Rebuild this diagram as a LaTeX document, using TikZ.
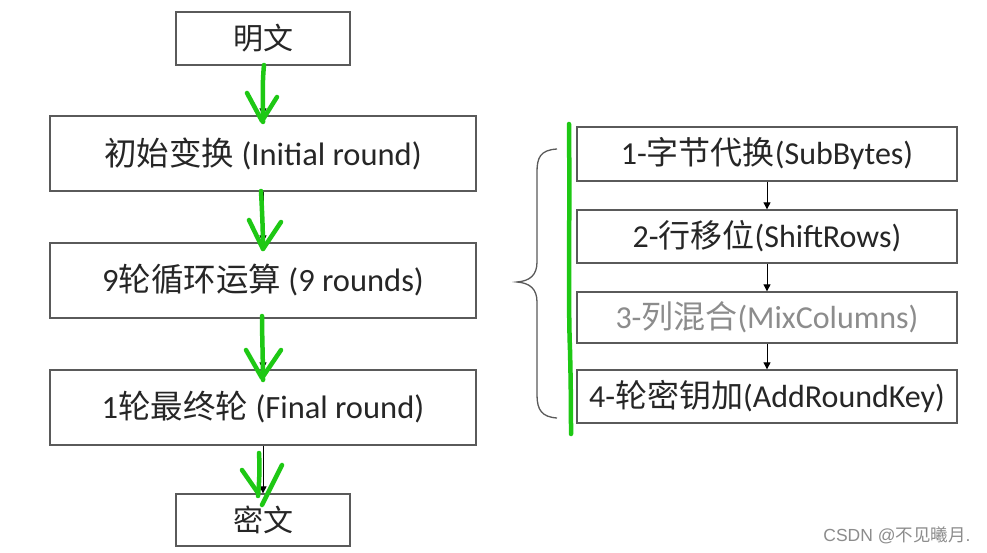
\documentclass[tikz,border=0pt]{standalone}
\usepackage{fontspec}
\setmainfont{Carlito}
\newfontfamily\cjk{Noto Sans CJK SC}
\newfontfamily\wmfont{Liberation Sans}
\usetikzlibrary{arrows.meta}
\definecolor{hgreen}{RGB}{30,200,20}
\definecolor{boxline}{RGB}{90,90,90}
\tikzset{
  lbox/.style={draw=boxline, line width=1.3pt, minimum width=426pt, minimum height=75pt, inner sep=0pt, font=\fontsize{32.5}{36}\selectfont, text=black!85},
  sbox/.style={draw=boxline, line width=1.3pt, minimum width=174pt, minimum height=53pt, inner sep=0pt, font=\fontsize{30}{34}\selectfont, text=black!85},
  rbox/.style={draw=boxline, line width=1.3pt, minimum width=380pt, minimum height=53pt, inner sep=0pt, font=\fontsize{32}{36}\selectfont, text=black!85},
  arr/.style={draw=black, line width=0.9pt, -{Triangle[length=7pt,width=7pt]}},
  gmark/.style={draw=hgreen, line width=4.5pt, line cap=round, line join=round},
}
\begin{document}
\begin{tikzpicture}[x=1pt,y=-1pt]
\useasboundingbox (0,0) rectangle (987,553);
\fill[white] (0,0) rectangle (987,553);
% left column
\node[sbox] (ming) at (263,38.5) {\cjk 明文};
\node[lbox] (init) at (263,153.5) {{\cjk 初始变换} (Initial round)};
\node[lbox] (nine) at (263,280.5) {9{\cjk 轮循环运算} (9 rounds)};
\node[lbox] (fin) at (263,407.5) {1{\cjk 轮最终轮} (Final round)};
\node[sbox, minimum height=52pt] (mi) at (263,520) {\cjk 密文};
\draw[arr] (ming) -- (init);
\draw[arr] (init) -- (nine);
\draw[arr] (nine) -- (fin);
\draw[arr] (fin) -- (mi);
% right column
\node[rbox, minimum height=54pt] (b1) at (767,154) {1-{\cjk 字节代换}(SubBytes)};
\node[rbox] (b2) at (767,236.5) {2-{\cjk 行移位}(ShiftRows)};
\node[rbox, minimum height=51pt, text=black!45] (b3) at (767,317.5) {3-{\cjk 列混合}(MixColumns)};
\node[rbox] (b4) at (767,396.5) {4-{\cjk 轮密钥加}(AddRoundKey)};
\draw[arr] (b1) -- (b2);
\draw[arr] (b2) -- (b3);
\draw[arr] (b3) -- (b4);
% brace
\draw[boxline, line width=1.3pt] (557,149) .. controls (540,150) and (537,158) .. (537,172)
  -- (537,262) .. controls (537,275) and (530,281) .. (517,282)
  .. controls (530,283) and (537,289) .. (537,302)
  -- (537,395) .. controls (537,410) and (542,417) .. (557,418);
% green annotations
\draw[gmark] (569,124) .. controls (570,220) and (568,300) .. (570,350) .. controls (571,390) and (571,420) .. (571,434);
\draw[gmark] (264,65) .. controls (262,85) and (263,105) .. (263,122);
\draw[gmark] (247,93) -- (262,121) -- (277,97);
\draw[gmark] (261,191) .. controls (262,210) and (263,230) .. (263,249);
\draw[gmark] (249,220) -- (263,249) -- (281,222);
\draw[gmark] (262,316) .. controls (262,335) and (263,360) .. (263,380);
\draw[gmark] (246,350) -- (262,378) -- (281,350);
\draw[gmark] (259,453) .. controls (260,470) and (259,485) .. (258,496);
\draw[gmark] (242,470) -- (258,493);
\draw[gmark] (282,465) -- (262,505);
% watermark
\node[font=\wmfont\fontsize{17.5}{20}\selectfont, text=black!45, anchor=east] (wm) at (974,535) {CSDN @{\cjk 不见曦月}.};
\end{tikzpicture}
\end{document}
